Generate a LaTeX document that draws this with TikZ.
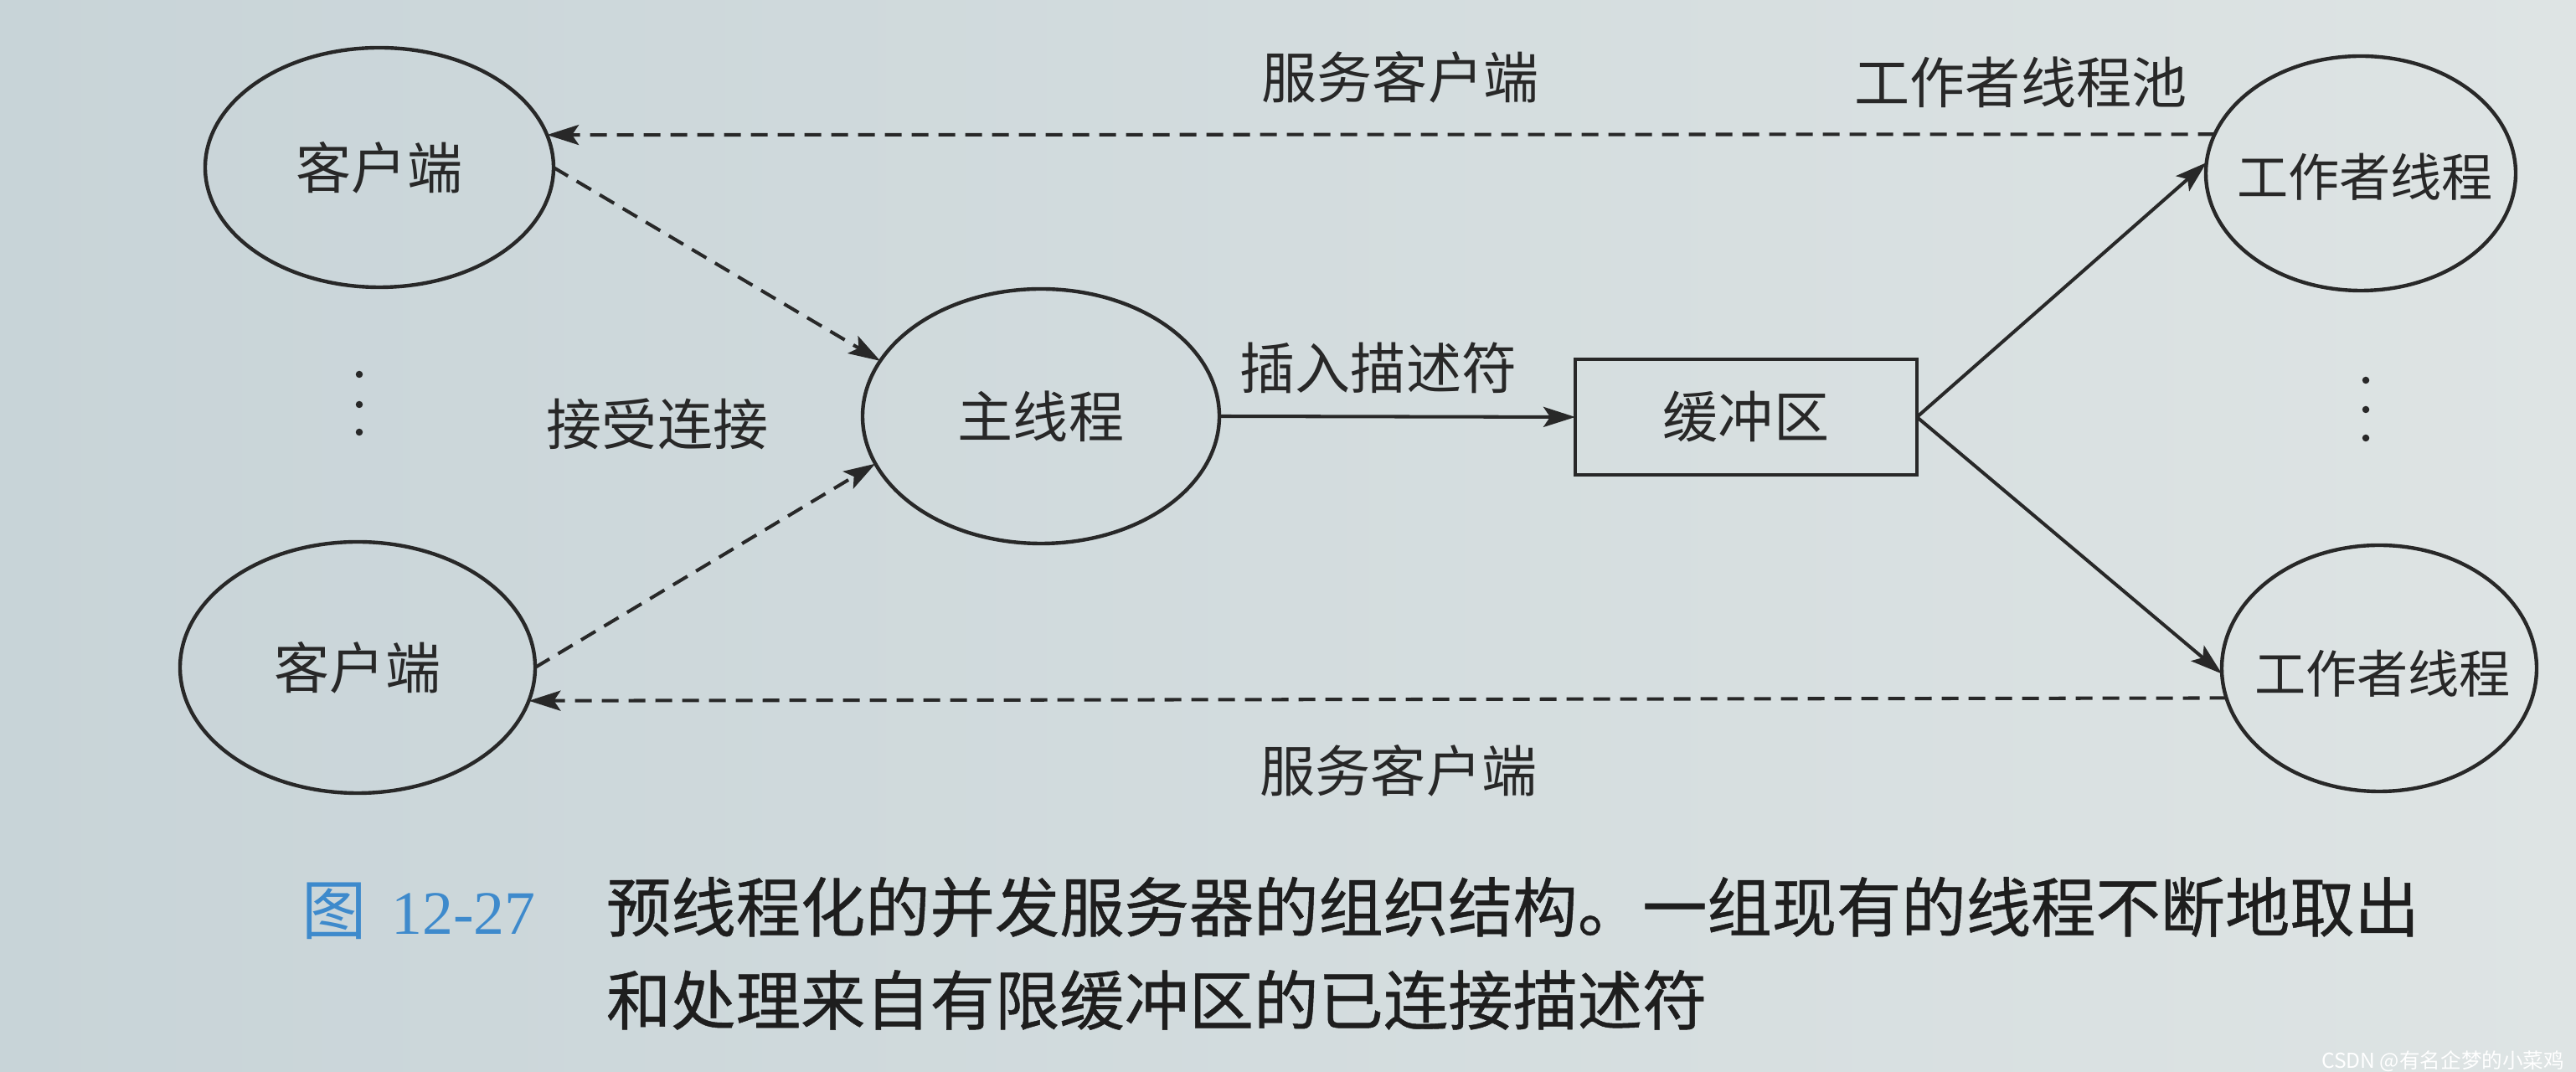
\documentclass[tikz,border=0pt]{standalone}
\usepackage{fontspec}
\setmainfont{Noto Sans CJK SC}
\newfontfamily\digitfont{Liberation Serif}
\newfontfamily\capfont[FakeBold=0.6]{Noto Sans CJK SC}
\usetikzlibrary{shapes.geometric,arrows.meta}
\definecolor{ink}{RGB}{40,40,40}
\definecolor{capink}{RGB}{30,30,30}
\definecolor{capblue}{RGB}{62,138,204}
\definecolor{bgl}{RGB}{200,212,216}
\definecolor{bgr}{RGB}{222,228,228}
\begin{document}
\begin{tikzpicture}[
  every node/.style={inner sep=0pt, outer sep=0pt},
  diafont/.style={font=\fontsize{18.8pt}{22pt}\selectfont, text=ink},
  workerfont/.style={font=\fontsize{17.4pt}{21pt}\selectfont, text=ink},
  oval/.style={ellipse, draw=ink, line width=1.25pt, diafont},
  bufbox/.style={rectangle, draw=ink, line width=1.25pt, minimum width=4.08cm, minimum height=1.38cm, diafont},
  lbl/.style={diafont},
  captext/.style={font=\capfont\fontsize{22pt}{26pt}\selectfont, text=capink, anchor=west},
  tipstyle/.style={-{Stealth[length=0.38cm,width=0.24cm,inset=0.08cm]}},
  dashconn/.style={draw=ink, line width=1.15pt, dash pattern=on 0.2cm off 0.12cm, tipstyle},
  solidconn/.style={draw=ink, line width=1.15pt, tipstyle},
  dotmark/.style={circle, fill=ink, minimum size=0.085cm}
]
% background
\useasboundingbox (0,0) rectangle (30.76,-12.80);
\shade[left color=bgl, right color=bgr] (0,0) rectangle (30.76,-12.80);

% nodes
\node[oval, minimum width=4.16cm, minimum height=2.86cm] (tc) at (4.53,-2.00) {客户端};
\node[oval, minimum width=4.24cm, minimum height=3.00cm] (bc) at (4.27,-7.97) {客户端};
\node[oval, minimum width=4.26cm, minimum height=3.04cm] (mt) at (12.43,-4.97) {主线程};
\node[bufbox] (buf) at (20.85,-4.98) {缓冲区};
\node[oval, minimum width=3.70cm, minimum height=2.80cm] (tw) at (28.19,-2.07) {};
\node[workerfont] (twl) at (28.24,-2.11) {工作者线程};
\node[oval, minimum width=3.76cm, minimum height=2.94cm] (bw) at (28.41,-7.98) {};
\node[workerfont] (bwl) at (28.45,-8.04) {工作者线程};

% vertical dots
\node[dotmark] (ld1) at (4.29,-4.47) {};
\node[dotmark] (ld2) at (4.29,-4.83) {};
\node[dotmark] (ld3) at (4.29,-5.16) {};
\node[dotmark] (rd1) at (28.25,-4.54) {};
\node[dotmark] (rd2) at (28.25,-4.89) {};
\node[dotmark] (rd3) at (28.25,-5.23) {};

% labels
\node[lbl] (serveTop) at (16.72,-0.92) {服务客户端};
\node[lbl] (pool) at (24.13,-0.98) {工作者线程池};
\node[lbl] (accept) at (7.85,-5.06) {接受连接};
\node[lbl] (insert) at (16.46,-4.39) {插入描述符};
\node[lbl] (serveBot) at (16.70,-9.20) {服务客户端};

% connectors
\draw[dashconn] (tw.165.3) -- (tc.11.3);
\draw[dashconn] (tc.east) -- (mt.161.3);
\draw[dashconn] (bc.east) -- (mt.196.4);
\draw[dashconn] (bw.191.4) -- (bc.349.3);
\draw[solidconn] (mt.east) -- (buf.west);
\draw[solidconn] (buf.east) -- (tw.176);
\draw[solidconn] (buf.east) -- (bw.182);

% caption
\node[anchor=west, text=capblue, font=\fontsize{22pt}{26pt}\selectfont] (figno) at (3.60,-10.88) {图\hspace{0.3cm}{\digitfont\fontsize{21pt}{26pt}\selectfont 12-27}};
\node[captext] (cap1) at (7.24,-10.83) {预线程化的并发服务器的组织结构。一组现有的线程不断地取出};
\node[captext] (cap2) at (7.24,-11.94) {和处理来自有限缓冲区的已连接描述符};

% watermark
\node[anchor=east, text=white, font=\fontsize{7pt}{8pt}\selectfont] (wm) at (30.62,-12.67) {CSDN @有名企梦的小菜鸡};
\end{tikzpicture}
\end{document}
